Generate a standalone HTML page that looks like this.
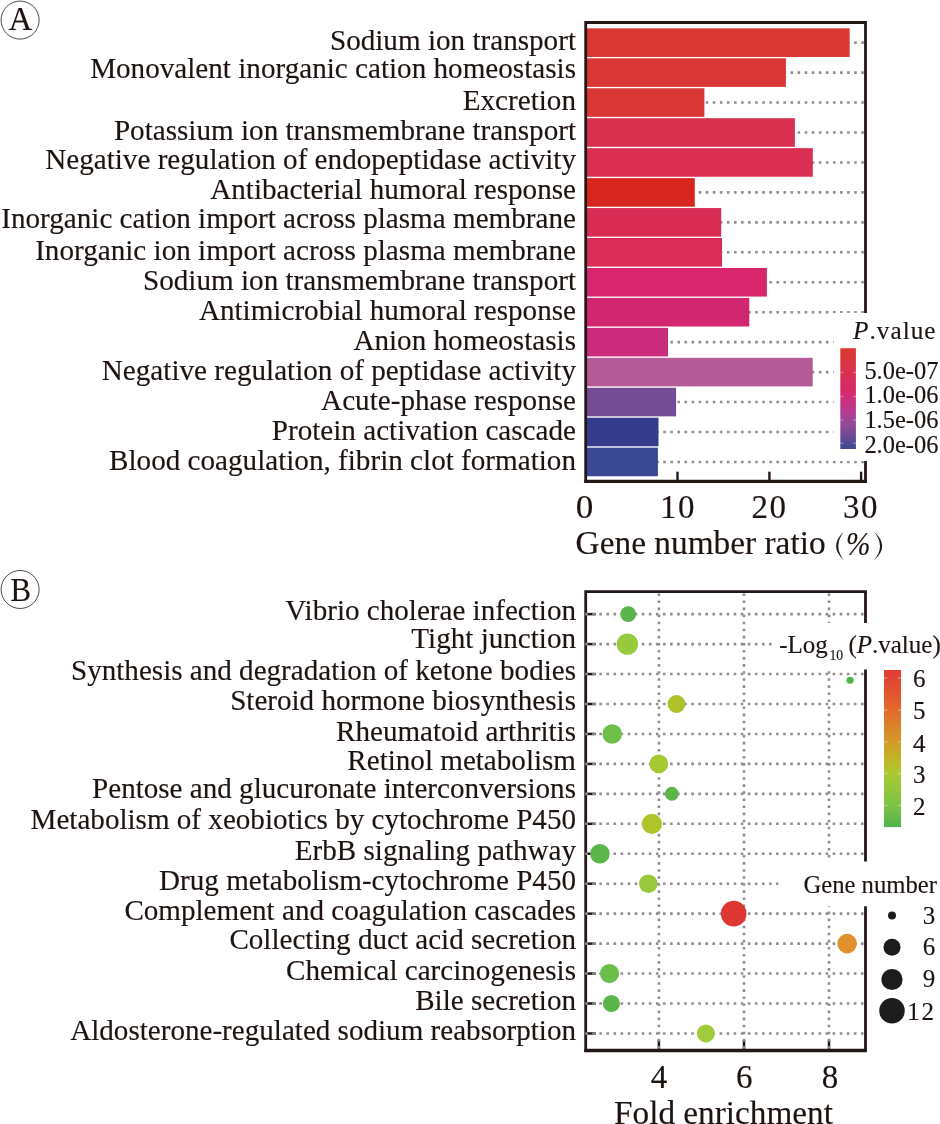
<!DOCTYPE html>
<html><head><meta charset="utf-8"><title>Figure</title>
<style>
html,body{margin:0;padding:0;background:#fff;}
body{width:940px;height:1124px;overflow:hidden;}
svg{display:block;will-change:transform;transform:translateZ(0);}
text{font-family:"Liberation Serif",serif;fill:#1d1411;stroke:#1d1411;stroke-width:0.15px;}
.i{font-style:italic;}
</style></head><body>
<svg width="940" height="1124" viewBox="0 0 940 1124">
<defs>
<linearGradient id="gA" x1="0" y1="0" x2="0" y2="1">
<stop offset="0" stop-color="#dc3a2c"/>
<stop offset="0.17" stop-color="#db3346"/>
<stop offset="0.42" stop-color="#d8286b"/>
<stop offset="0.6" stop-color="#bf378e"/>
<stop offset="0.78" stop-color="#8a4b99"/>
<stop offset="1" stop-color="#3d4696"/>
</linearGradient>
<linearGradient id="gB" x1="0" y1="0" x2="0" y2="1">
<stop offset="0" stop-color="#e03a35"/>
<stop offset="0.25" stop-color="#e2682b"/>
<stop offset="0.46" stop-color="#d39a2a"/>
<stop offset="0.56" stop-color="#c2b524"/>
<stop offset="0.66" stop-color="#a9c933"/>
<stop offset="0.86" stop-color="#7ec346"/>
<stop offset="1" stop-color="#50b34a"/>
</linearGradient>
</defs>
<rect width="940" height="1124" fill="#fff"/>

<line x1="585.50" y1="42.65" x2="864.5" y2="42.65" stroke="#8f8f8f" stroke-width="2.6" stroke-dasharray="2.6 4.47"/>
<line x1="585.50" y1="72.60" x2="864.5" y2="72.60" stroke="#8f8f8f" stroke-width="2.6" stroke-dasharray="2.6 4.47"/>
<line x1="585.50" y1="102.55" x2="864.5" y2="102.55" stroke="#8f8f8f" stroke-width="2.6" stroke-dasharray="2.6 4.47"/>
<line x1="585.50" y1="132.50" x2="864.5" y2="132.50" stroke="#8f8f8f" stroke-width="2.6" stroke-dasharray="2.6 4.47"/>
<line x1="585.50" y1="162.45" x2="864.5" y2="162.45" stroke="#8f8f8f" stroke-width="2.6" stroke-dasharray="2.6 4.47"/>
<line x1="585.50" y1="192.40" x2="864.5" y2="192.40" stroke="#8f8f8f" stroke-width="2.6" stroke-dasharray="2.6 4.47"/>
<line x1="585.50" y1="222.35" x2="864.5" y2="222.35" stroke="#8f8f8f" stroke-width="2.6" stroke-dasharray="2.6 4.47"/>
<line x1="585.50" y1="252.30" x2="864.5" y2="252.30" stroke="#8f8f8f" stroke-width="2.6" stroke-dasharray="2.6 4.47"/>
<line x1="585.50" y1="282.25" x2="864.5" y2="282.25" stroke="#8f8f8f" stroke-width="2.6" stroke-dasharray="2.6 4.47"/>
<line x1="585.50" y1="312.20" x2="864.5" y2="312.20" stroke="#8f8f8f" stroke-width="2.6" stroke-dasharray="2.6 4.47"/>
<line x1="585.50" y1="342.15" x2="864.5" y2="342.15" stroke="#8f8f8f" stroke-width="2.6" stroke-dasharray="2.6 4.47"/>
<line x1="585.50" y1="372.10" x2="864.5" y2="372.10" stroke="#8f8f8f" stroke-width="2.6" stroke-dasharray="2.6 4.47"/>
<line x1="585.50" y1="402.05" x2="864.5" y2="402.05" stroke="#8f8f8f" stroke-width="2.6" stroke-dasharray="2.6 4.47"/>
<line x1="585.50" y1="432.00" x2="864.5" y2="432.00" stroke="#8f8f8f" stroke-width="2.6" stroke-dasharray="2.6 4.47"/>
<line x1="585.50" y1="461.95" x2="864.5" y2="461.95" stroke="#8f8f8f" stroke-width="2.6" stroke-dasharray="2.6 4.47"/>
<rect x="585.7" y="28.35" width="263.95" height="28.6" fill="#d93634"/>
<rect x="585.7" y="58.30" width="200.20" height="28.6" fill="#d93635"/>
<rect x="585.7" y="88.25" width="118.70" height="28.6" fill="#d93736"/>
<rect x="585.7" y="118.20" width="209.20" height="28.6" fill="#d93050"/>
<rect x="585.7" y="148.15" width="227.10" height="28.6" fill="#da2f52"/>
<rect x="585.7" y="178.10" width="109.10" height="28.6" fill="#d7261e"/>
<rect x="585.7" y="208.05" width="135.50" height="28.6" fill="#d92c55"/>
<rect x="585.7" y="238.00" width="136.30" height="28.6" fill="#d92c57"/>
<rect x="585.7" y="267.95" width="181.20" height="28.6" fill="#d8266c"/>
<rect x="585.7" y="297.90" width="163.60" height="28.6" fill="#d22670"/>
<rect x="585.7" y="327.85" width="82.30" height="28.6" fill="#ca2b7c"/>
<rect x="585.7" y="357.80" width="227.00" height="28.6" fill="#b35a97"/>
<rect x="585.7" y="387.75" width="90.40" height="28.6" fill="#744b95"/>
<rect x="585.7" y="417.70" width="72.80" height="28.6" fill="#363c8c"/>
<rect x="585.7" y="447.65" width="72.20" height="28.6" fill="#3b4994"/>
<rect x="833.5" y="313" width="107" height="148" fill="#fff"/>
<path d="M585.7 482.6 V22.5 H865.5 V313 M865.5 461 V482" fill="none" stroke="#231815" stroke-width="2.8"/>
<line x1="584.3000000000001" y1="481.3" x2="866.9" y2="481.3" stroke="#231815" stroke-width="3.3"/>
<line x1="677.5" y1="471.7" x2="677.5" y2="481" stroke="#231815" stroke-width="2.4"/>
<line x1="769.4" y1="471.7" x2="769.4" y2="481" stroke="#231815" stroke-width="2.4"/>
<line x1="861.1" y1="471.7" x2="861.1" y2="481" stroke="#231815" stroke-width="2.4"/>
<text x="576" y="49.75" font-size="29.15" text-anchor="end">Sodium ion transport</text>
<text x="576" y="78.30" font-size="29.15" text-anchor="end">Monovalent inorganic cation homeostasis</text>
<text x="576" y="109.65" font-size="29.15" text-anchor="end">Excretion</text>
<text x="576" y="140.05" font-size="29.15" text-anchor="end">Potassium ion transmembrane transport</text>
<text x="576" y="169.25" font-size="29.15" text-anchor="end">Negative regulation of endopeptidase activity</text>
<text x="576" y="199.20" font-size="29.15" text-anchor="end">Antibacterial humoral response</text>
<text x="576" y="227.95" font-size="29.15" text-anchor="end">Inorganic cation import across plasma membrane</text>
<text x="576" y="259.60" font-size="29.15" text-anchor="end">Inorganic ion import across plasma membrane</text>
<text x="576" y="290.25" font-size="29.15" text-anchor="end">Sodium ion transmembrane transport</text>
<text x="576" y="319.60" font-size="29.15" text-anchor="end">Antimicrobial humoral response</text>
<text x="576" y="349.65" font-size="29.15" text-anchor="end">Anion homeostasis</text>
<text x="576" y="380.20" font-size="29.15" text-anchor="end">Negative regulation of peptidase activity</text>
<text x="576" y="409.65" font-size="29.15" text-anchor="end">Acute-phase response</text>
<text x="576" y="439.70" font-size="29.15" text-anchor="end">Protein activation cascade</text>
<text x="576" y="469.55" font-size="29.15" text-anchor="end">Blood coagulation, fibrin clot formation</text>
<text x="575.8" y="518" font-size="33" text-anchor="start" textLength="17.6" lengthAdjust="spacingAndGlyphs">0</text>
<text x="678" y="518" font-size="33" text-anchor="middle" letter-spacing="1.5">10</text>
<text x="769.4" y="518" font-size="33" text-anchor="middle" letter-spacing="1.5">20</text>
<text x="861" y="518" font-size="33" text-anchor="middle" letter-spacing="1.5">30</text>
<text x="575.6" y="553.5" font-size="33" text-anchor="start" textLength="250" lengthAdjust="spacingAndGlyphs">Gene number ratio</text>
<path d="M843.8 531.7 Q828.4 546 843.8 560.2 Q832.8 546 843.8 531.7Z" fill="#231815"/>
<path d="M874 531.7 Q890.4 546 874 560.2 Q886 546 874 531.7Z" fill="#231815"/>
<text x="846" y="555" font-size="34" font-style="italic" textLength="24.4" lengthAdjust="spacingAndGlyphs">%</text>
<text x="853" y="338.8" font-size="25.3" letter-spacing="1"><tspan class="i">P</tspan>.value</text>
<rect x="840.3" y="348.2" width="15.6" height="100.8" fill="url(#gA)"/>
<text x="864.4" y="378.5" font-size="25" text-anchor="start" textLength="74" lengthAdjust="spacingAndGlyphs">5.0e-07</text>
<path d="M840.3 372.6h3M852.9 372.6h3" stroke="#fff" stroke-opacity="0.3" stroke-width="1.5"/>
<text x="864.4" y="403.4" font-size="25" text-anchor="start" textLength="74" lengthAdjust="spacingAndGlyphs">1.0e-06</text>
<path d="M840.3 396.6h3M852.9 396.6h3" stroke="#fff" stroke-opacity="0.3" stroke-width="1.5"/>
<text x="864.4" y="427.8" font-size="25" text-anchor="start" textLength="74" lengthAdjust="spacingAndGlyphs">1.5e-06</text>
<path d="M840.3 420h3M852.9 420h3" stroke="#fff" stroke-opacity="0.3" stroke-width="1.5"/>
<text x="864.4" y="452.6" font-size="25" text-anchor="start" textLength="74" lengthAdjust="spacingAndGlyphs">2.0e-06</text>
<path d="M840.3 443.2h3M852.9 443.2h3" stroke="#fff" stroke-opacity="0.3" stroke-width="1.5"/>
<circle cx="20.1" cy="20.1" r="19.0" fill="none" stroke="#3a3330" stroke-width="0.9"/>
<text x="20.3" y="29.7" font-size="33" text-anchor="middle">A</text>
<line x1="586.9000000000001" y1="614.15" x2="595.6" y2="614.15" stroke="#231815" stroke-width="2.5"/>
<line x1="586.9000000000001" y1="644.10" x2="595.6" y2="644.10" stroke="#231815" stroke-width="2.5"/>
<line x1="586.9000000000001" y1="674.05" x2="595.6" y2="674.05" stroke="#231815" stroke-width="2.5"/>
<line x1="586.9000000000001" y1="704.00" x2="595.6" y2="704.00" stroke="#231815" stroke-width="2.5"/>
<line x1="586.9000000000001" y1="733.95" x2="595.6" y2="733.95" stroke="#231815" stroke-width="2.5"/>
<line x1="586.9000000000001" y1="763.90" x2="595.6" y2="763.90" stroke="#231815" stroke-width="2.5"/>
<line x1="586.9000000000001" y1="793.85" x2="595.6" y2="793.85" stroke="#231815" stroke-width="2.5"/>
<line x1="586.9000000000001" y1="823.80" x2="595.6" y2="823.80" stroke="#231815" stroke-width="2.5"/>
<line x1="586.9000000000001" y1="853.75" x2="595.6" y2="853.75" stroke="#231815" stroke-width="2.5"/>
<line x1="586.9000000000001" y1="883.70" x2="595.6" y2="883.70" stroke="#231815" stroke-width="2.5"/>
<line x1="586.9000000000001" y1="913.65" x2="595.6" y2="913.65" stroke="#231815" stroke-width="2.5"/>
<line x1="586.9000000000001" y1="943.60" x2="595.6" y2="943.60" stroke="#231815" stroke-width="2.5"/>
<line x1="586.9000000000001" y1="973.55" x2="595.6" y2="973.55" stroke="#231815" stroke-width="2.5"/>
<line x1="586.9000000000001" y1="1003.50" x2="595.6" y2="1003.50" stroke="#231815" stroke-width="2.5"/>
<line x1="586.9000000000001" y1="1033.45" x2="595.6" y2="1033.45" stroke="#231815" stroke-width="2.5"/>
<line x1="658.9" y1="1040" x2="658.9" y2="1050.6" stroke="#231815" stroke-width="2.5"/>
<line x1="744.0" y1="1040" x2="744.0" y2="1050.6" stroke="#231815" stroke-width="2.5"/>
<line x1="829.0" y1="1040" x2="829.0" y2="1050.6" stroke="#231815" stroke-width="2.5"/>
<path d="M585.7 1052 V591.6 H866.9" fill="none" stroke="#231815" stroke-width="2.8"/>
<line x1="584.3000000000001" y1="1050.4499999999998" x2="866.9" y2="1050.4499999999998" stroke="#231815" stroke-width="3.5"/>
<line x1="585.20" y1="614.15" x2="864.5" y2="614.15" stroke="#8f8f8f" stroke-width="2.6" stroke-dasharray="2.6 4.47"/>
<line x1="585.20" y1="644.10" x2="864.5" y2="644.10" stroke="#8f8f8f" stroke-width="2.6" stroke-dasharray="2.6 4.47"/>
<line x1="585.20" y1="674.05" x2="864.5" y2="674.05" stroke="#8f8f8f" stroke-width="2.6" stroke-dasharray="2.6 4.47"/>
<line x1="585.20" y1="704.00" x2="864.5" y2="704.00" stroke="#8f8f8f" stroke-width="2.6" stroke-dasharray="2.6 4.47"/>
<line x1="585.20" y1="733.95" x2="864.5" y2="733.95" stroke="#8f8f8f" stroke-width="2.6" stroke-dasharray="2.6 4.47"/>
<line x1="585.20" y1="763.90" x2="864.5" y2="763.90" stroke="#8f8f8f" stroke-width="2.6" stroke-dasharray="2.6 4.47"/>
<line x1="585.20" y1="793.85" x2="864.5" y2="793.85" stroke="#8f8f8f" stroke-width="2.6" stroke-dasharray="2.6 4.47"/>
<line x1="585.20" y1="823.80" x2="864.5" y2="823.80" stroke="#8f8f8f" stroke-width="2.6" stroke-dasharray="2.6 4.47"/>
<line x1="585.20" y1="853.75" x2="864.5" y2="853.75" stroke="#8f8f8f" stroke-width="2.6" stroke-dasharray="2.6 4.47"/>
<line x1="585.20" y1="883.70" x2="864.5" y2="883.70" stroke="#8f8f8f" stroke-width="2.6" stroke-dasharray="2.6 4.47"/>
<line x1="585.20" y1="913.65" x2="864.5" y2="913.65" stroke="#8f8f8f" stroke-width="2.6" stroke-dasharray="2.6 4.47"/>
<line x1="585.20" y1="943.60" x2="864.5" y2="943.60" stroke="#8f8f8f" stroke-width="2.6" stroke-dasharray="2.6 4.47"/>
<line x1="585.20" y1="973.55" x2="864.5" y2="973.55" stroke="#8f8f8f" stroke-width="2.6" stroke-dasharray="2.6 4.47"/>
<line x1="585.20" y1="1003.50" x2="864.5" y2="1003.50" stroke="#8f8f8f" stroke-width="2.6" stroke-dasharray="2.6 4.47"/>
<line x1="585.20" y1="1033.45" x2="864.5" y2="1033.45" stroke="#8f8f8f" stroke-width="2.6" stroke-dasharray="2.6 4.47"/>
<line x1="658.9" y1="593.40" x2="658.9" y2="1049" stroke="#8f8f8f" stroke-width="2.6" stroke-dasharray="2.6 4.47"/>
<line x1="744.0" y1="593.40" x2="744.0" y2="1049" stroke="#8f8f8f" stroke-width="2.6" stroke-dasharray="2.6 4.47"/>
<line x1="829.0" y1="593.40" x2="829.0" y2="1049" stroke="#8f8f8f" stroke-width="2.6" stroke-dasharray="2.6 4.47"/>
<circle cx="628.2" cy="614.15" r="7.9" fill="#5ab54a"/>
<circle cx="627.4" cy="644.10" r="10.7" fill="#96c93c"/>
<circle cx="850.1" cy="680.25" r="3.6" fill="#4fb34a"/>
<circle cx="676.5" cy="704.00" r="8.9" fill="#afc127"/>
<circle cx="612.2" cy="733.95" r="9.8" fill="#6fbf4b"/>
<circle cx="658.8" cy="763.90" r="9.4" fill="#a5c933"/>
<circle cx="671.8" cy="793.85" r="7.0" fill="#5db54a"/>
<circle cx="651.9" cy="823.80" r="10.1" fill="#b0c42c"/>
<circle cx="599.9" cy="853.75" r="9.8" fill="#5ab54a"/>
<circle cx="648.3" cy="883.70" r="9.3" fill="#9aca3c"/>
<circle cx="733.7" cy="913.65" r="12.8" fill="#de3633"/>
<circle cx="847.1" cy="943.60" r="9.8" fill="#e0912e"/>
<circle cx="609.5" cy="973.55" r="9.6" fill="#6abf4b"/>
<circle cx="611.4" cy="1003.50" r="8.6" fill="#5ab54a"/>
<circle cx="705.9" cy="1033.45" r="9.0" fill="#a0cb3b"/>
<path d="M865.5 591.6 V1050.6" fill="none" stroke="#231815" stroke-width="2.8"/>
<rect x="774" y="623" width="166" height="46.5" fill="#fff"/>
<rect x="778.5" y="861.5" width="162" height="44.8" fill="#fff"/>
<text x="576" y="620.10" font-size="29.1" text-anchor="end">Vibrio cholerae infection</text>
<text x="576" y="648.05" font-size="29.1" text-anchor="end">Tight junction</text>
<text x="576" y="679.55" font-size="29.1" text-anchor="end">Synthesis and degradation of ketone bodies</text>
<text x="576" y="709.80" font-size="29.1" text-anchor="end">Steroid hormone biosynthesis</text>
<text x="576" y="740.65" font-size="29.1" text-anchor="end">Rheumatoid arthritis</text>
<text x="576" y="769.60" font-size="29.1" text-anchor="end">Retinol metabolism</text>
<text x="576" y="798.05" font-size="29.1" text-anchor="end">Pentose and glucuronate interconversions</text>
<text x="576" y="829.40" font-size="29.1" text-anchor="end">Metabolism of xeobiotics by cytochrome P450</text>
<text x="576" y="860.25" font-size="29.1" text-anchor="end">ErbB signaling pathway</text>
<text x="576" y="889.75" font-size="29.1" text-anchor="end">Drug metabolism-cytochrome P450</text>
<text x="576" y="920.40" font-size="29.1" text-anchor="end">Complement and coagulation cascades</text>
<text x="576" y="949.45" font-size="29.1" text-anchor="end">Collecting duct acid secretion</text>
<text x="576" y="980.10" font-size="29.1" text-anchor="end">Chemical carcinogenesis</text>
<text x="576" y="1009.95" font-size="29.1" text-anchor="end">Bile secretion</text>
<text x="576" y="1039.75" font-size="29.1" text-anchor="end">Aldosterone-regulated sodium reabsorption</text>
<text x="659" y="1088" font-size="33" text-anchor="middle">4</text>
<text x="744.3" y="1088" font-size="33" text-anchor="middle">6</text>
<text x="830" y="1088" font-size="33" text-anchor="middle">8</text>
<text x="614" y="1123.6" font-size="33" text-anchor="start" textLength="219" lengthAdjust="spacingAndGlyphs">Fold enrichment</text>
<text y="653.2" font-size="25"><tspan x="779.2">-Log</tspan><tspan x="829.4" y="659.5" font-size="13.6">10</tspan><tspan x="848.4" y="653.2">(</tspan><tspan class="i">P</tspan>.value)</text>
<rect x="884" y="670" width="17" height="157.1" fill="url(#gB)"/>
<text x="919.2" y="686.8" font-size="25" text-anchor="middle">6</text>
<path d="M884 677.9h3.4M897.6 677.9h3.4" stroke="#fff" stroke-opacity="0.3" stroke-width="1.5"/>
<text x="919.2" y="719.2" font-size="25" text-anchor="middle">5</text>
<path d="M884 709.9h3.4M897.6 709.9h3.4" stroke="#fff" stroke-opacity="0.3" stroke-width="1.5"/>
<text x="919.2" y="751.7" font-size="25" text-anchor="middle">4</text>
<path d="M884 742.1h3.4M897.6 742.1h3.4" stroke="#fff" stroke-opacity="0.3" stroke-width="1.5"/>
<text x="919.2" y="782.8" font-size="25" text-anchor="middle">3</text>
<path d="M884 773.6h3.4M897.6 773.6h3.4" stroke="#fff" stroke-opacity="0.3" stroke-width="1.5"/>
<text x="919.2" y="814.6" font-size="25" text-anchor="middle">2</text>
<path d="M884 805.6h3.4M897.6 805.6h3.4" stroke="#fff" stroke-opacity="0.3" stroke-width="1.5"/>
<text x="803.4" y="892.8" font-size="25" text-anchor="start" textLength="133.6" lengthAdjust="spacingAndGlyphs">Gene number</text>
<circle cx="892" cy="915.6" r="4.0" fill="#1c1c1c"/>
<text x="935.2" y="923.8" font-size="25" text-anchor="end">3</text>
<circle cx="892" cy="947.2" r="8.5" fill="#1c1c1c"/>
<text x="935.2" y="955.1" font-size="25" text-anchor="end">6</text>
<circle cx="892" cy="979.5" r="10.6" fill="#1c1c1c"/>
<text x="935.2" y="986.6" font-size="25" text-anchor="end">9</text>
<circle cx="892" cy="1010.8" r="12.8" fill="#1c1c1c"/>
<text x="907.3" y="1019.5" font-size="25" text-anchor="start" letter-spacing="1.6">12</text>
<circle cx="20.1" cy="589.5" r="19.0" fill="none" stroke="#3a3330" stroke-width="0.9"/>
<text x="20.9" y="600.6" font-size="33" text-anchor="middle" textLength="20.6" lengthAdjust="spacingAndGlyphs">B</text>
</svg></body></html>
